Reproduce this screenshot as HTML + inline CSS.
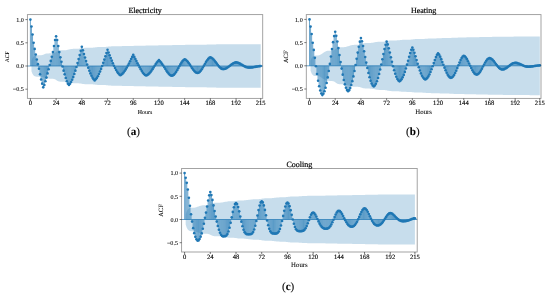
<!DOCTYPE html>
<html><head><meta charset="utf-8"><title>ACF</title>
<style>
html,body{margin:0;padding:0;background:#fff}
svg{display:block}
text{font-family:"Liberation Serif",serif;fill:#000;text-rendering:geometricPrecision}
.tk{font-size:6.6px;stroke:#000;stroke-width:0.12px}
.ty{font-size:6.1px;stroke-width:0.08px}
.lb{stroke:#000;stroke-width:0.06px}
.tt{font-size:8px;stroke:#000;stroke-width:0.18px}
.cap{font-size:11.1px;fill:#000;stroke:#000;stroke-width:0.08px}
</style></head><body>
<svg width="550" height="296" viewBox="0 0 550 296">
<rect width="550" height="296" fill="#fff"/>
<polygon points="31.47,60.84 32.54,57.94 33.61,56.53 34.68,55.86 35.76,55.51 36.83,55.35 37.90,55.30 38.97,55.30 40.04,55.29 41.11,55.21 42.18,55.01 43.25,54.66 44.33,54.18 45.40,53.80 46.47,53.57 47.54,53.44 48.61,53.38 49.68,53.37 50.75,53.37 51.82,53.34 52.90,53.26 53.97,53.07 55.04,52.70 56.11,52.09 57.18,51.33 58.25,50.77 59.32,50.45 60.39,50.29 61.46,50.23 62.54,50.22 63.61,50.22 64.68,50.20 65.75,50.15 66.82,50.04 67.89,49.86 68.96,49.62 70.03,49.35 71.11,49.12 72.18,48.93 73.25,48.79 74.32,48.71 75.39,48.66 76.46,48.64 77.53,48.64 78.60,48.64 79.68,48.60 80.75,48.52 81.82,48.35 82.89,48.10 83.96,47.93 85.03,47.83 86.10,47.78 87.17,47.76 88.24,47.76 89.32,47.76 90.39,47.75 91.46,47.71 92.53,47.64 93.60,47.55 94.67,47.43 95.74,47.30 96.81,47.18 97.89,47.09 98.96,47.02 100.03,46.98 101.10,46.96 102.17,46.95 103.24,46.95 104.31,46.94 105.38,46.92 106.46,46.86 107.53,46.75 108.60,46.58 109.67,46.46 110.74,46.39 111.81,46.35 112.88,46.33 113.95,46.33 115.02,46.33 116.10,46.32 117.17,46.31 118.24,46.29 119.31,46.26 120.38,46.22 121.45,46.16 122.52,46.12 123.59,46.08 124.67,46.05 125.74,46.04 126.81,46.03 127.88,46.03 128.95,46.03 130.02,46.03 131.09,46.01 132.16,45.98 133.24,45.93 134.31,45.86 135.38,45.80 136.45,45.77 137.52,45.76 138.59,45.75 139.66,45.75 140.73,45.75 141.80,45.75 142.88,45.73 143.95,45.70 145.02,45.66 146.09,45.62 147.16,45.56 148.23,45.51 149.30,45.47 150.37,45.44 151.45,45.41 152.52,45.40 153.59,45.39 154.66,45.39 155.73,45.39 156.80,45.39 157.87,45.38 158.94,45.37 160.02,45.35 161.09,45.33 162.16,45.33 163.23,45.32 164.30,45.32 165.37,45.32 166.44,45.32 167.51,45.31 168.58,45.28 169.66,45.25 170.73,45.20 171.80,45.15 172.87,45.09 173.94,45.04 175.01,45.00 176.08,44.96 177.15,44.94 178.23,44.93 179.30,44.93 180.37,44.93 181.44,44.93 182.51,44.92 183.58,44.91 184.65,44.89 185.72,44.86 186.80,44.84 187.87,44.82 188.94,44.81 190.01,44.81 191.08,44.81 192.15,44.81 193.22,44.80 194.29,44.79 195.36,44.78 196.44,44.76 197.51,44.73 198.58,44.70 199.65,44.68 200.72,44.66 201.79,44.64 202.86,44.64 203.93,44.63 205.01,44.63 206.08,44.63 207.15,44.62 208.22,44.60 209.29,44.57 210.36,44.54 211.43,44.49 212.50,44.45 213.58,44.42 214.65,44.40 215.72,44.38 216.79,44.37 217.86,44.37 218.93,44.37 220.00,44.37 221.07,44.37 222.14,44.36 223.22,44.36 224.29,44.35 225.36,44.35 226.43,44.34 227.50,44.34 228.57,44.34 229.64,44.34 230.71,44.34 231.79,44.34 232.86,44.34 233.93,44.34 235.00,44.33 236.07,44.32 237.14,44.32 238.21,44.31 239.28,44.30 240.36,44.30 241.43,44.30 242.50,44.30 243.57,44.30 244.64,44.30 245.71,44.30 246.78,44.29 247.85,44.29 248.92,44.29 250.00,44.29 251.07,44.29 252.14,44.29 253.21,44.29 254.28,44.29 255.35,44.29 256.42,44.29 257.49,44.28 258.57,44.28 259.64,44.28 260.71,44.28 260.71,87.72 259.64,87.72 258.57,87.72 257.49,87.72 256.42,87.71 255.35,87.71 254.28,87.71 253.21,87.71 252.14,87.71 251.07,87.71 250.00,87.71 248.92,87.71 247.85,87.71 246.78,87.71 245.71,87.70 244.64,87.70 243.57,87.70 242.50,87.70 241.43,87.70 240.36,87.70 239.28,87.70 238.21,87.69 237.14,87.68 236.07,87.68 235.00,87.67 233.93,87.66 232.86,87.66 231.79,87.66 230.71,87.66 229.64,87.66 228.57,87.66 227.50,87.66 226.43,87.66 225.36,87.65 224.29,87.65 223.22,87.64 222.14,87.64 221.07,87.63 220.00,87.63 218.93,87.63 217.86,87.63 216.79,87.63 215.72,87.62 214.65,87.60 213.58,87.58 212.50,87.55 211.43,87.51 210.36,87.46 209.29,87.43 208.22,87.40 207.15,87.38 206.08,87.37 205.01,87.37 203.93,87.37 202.86,87.36 201.79,87.36 200.72,87.34 199.65,87.32 198.58,87.30 197.51,87.27 196.44,87.24 195.36,87.22 194.29,87.21 193.22,87.20 192.15,87.19 191.08,87.19 190.01,87.19 188.94,87.19 187.87,87.18 186.80,87.16 185.72,87.14 184.65,87.11 183.58,87.09 182.51,87.08 181.44,87.07 180.37,87.07 179.30,87.07 178.23,87.07 177.15,87.06 176.08,87.04 175.01,87.00 173.94,86.96 172.87,86.91 171.80,86.85 170.73,86.80 169.66,86.75 168.58,86.72 167.51,86.69 166.44,86.68 165.37,86.68 164.30,86.68 163.23,86.68 162.16,86.67 161.09,86.67 160.02,86.65 158.94,86.63 157.87,86.62 156.80,86.61 155.73,86.61 154.66,86.61 153.59,86.61 152.52,86.60 151.45,86.59 150.37,86.56 149.30,86.53 148.23,86.49 147.16,86.44 146.09,86.38 145.02,86.34 143.95,86.30 142.88,86.27 141.80,86.25 140.73,86.25 139.66,86.25 138.59,86.25 137.52,86.24 136.45,86.23 135.38,86.20 134.31,86.14 133.24,86.07 132.16,86.02 131.09,85.99 130.02,85.97 128.95,85.97 127.88,85.97 126.81,85.97 125.74,85.96 124.67,85.95 123.59,85.92 122.52,85.88 121.45,85.84 120.38,85.78 119.31,85.74 118.24,85.71 117.17,85.69 116.10,85.68 115.02,85.67 113.95,85.67 112.88,85.67 111.81,85.65 110.74,85.61 109.67,85.54 108.60,85.42 107.53,85.25 106.46,85.14 105.38,85.08 104.31,85.06 103.24,85.05 102.17,85.05 101.10,85.04 100.03,85.02 98.96,84.98 97.89,84.91 96.81,84.82 95.74,84.70 94.67,84.57 93.60,84.45 92.53,84.36 91.46,84.29 90.39,84.25 89.32,84.24 88.24,84.24 87.17,84.24 86.10,84.22 85.03,84.17 83.96,84.07 82.89,83.90 81.82,83.65 80.75,83.48 79.68,83.40 78.60,83.36 77.53,83.36 76.46,83.36 75.39,83.34 74.32,83.29 73.25,83.21 72.18,83.07 71.11,82.88 70.03,82.65 68.96,82.38 67.89,82.14 66.82,81.96 65.75,81.85 64.68,81.80 63.61,81.78 62.54,81.78 61.46,81.77 60.39,81.71 59.32,81.55 58.25,81.23 57.18,80.67 56.11,79.91 55.04,79.30 53.97,78.93 52.90,78.74 51.82,78.66 50.75,78.63 49.68,78.63 48.61,78.62 47.54,78.56 46.47,78.43 45.40,78.20 44.33,77.82 43.25,77.34 42.18,76.99 41.11,76.79 40.04,76.71 38.97,76.70 37.90,76.70 36.83,76.65 35.76,76.49 34.68,76.14 33.61,75.47 32.54,74.06 31.47,71.16" fill="#1f77b4" fill-opacity="0.25"/>
<path d="M30.40 66.00V19.60M31.47 66.00V26.56M32.54 66.00V34.45M33.61 66.00V42.80M34.68 66.00V48.92M35.76 66.00V54.49M36.83 66.00V59.50M37.90 66.00V64.14M38.97 66.00V68.78M40.04 66.00V74.35M41.11 66.00V79.46M42.18 66.00V83.63M43.25 66.00V87.34M44.33 66.00V85.02M45.40 66.00V81.31M46.47 66.00V77.60M47.54 66.00V73.42M48.61 66.00V69.25M49.68 66.00V65.07M50.75 66.00V60.90M51.82 66.00V56.72M52.90 66.00V52.08M53.97 66.00V46.05M55.04 66.00V40.02M56.11 66.00V36.30M57.18 66.00V40.02M58.25 66.00V46.05M59.32 66.00V52.08M60.39 66.00V57.18M61.46 66.00V61.82M62.54 66.00V66.46M63.61 66.00V70.64M64.68 66.00V74.35M65.75 66.00V78.06M66.82 66.00V81.31M67.89 66.00V83.63M68.96 66.00V85.02M70.03 66.00V83.75M71.11 66.00V81.99M72.18 66.00V79.76M73.25 66.00V77.10M74.32 66.00V74.04M75.39 66.00V70.64M76.46 66.00V66.96M77.53 66.00V63.08M78.60 66.00V59.04M79.68 66.00V54.94M80.75 66.00V50.81M81.82 66.00V46.74M82.89 66.00V50.32M83.96 66.00V53.94M85.03 66.00V57.55M86.10 66.00V61.10M87.17 66.00V64.51M88.24 66.00V67.74M89.32 66.00V70.73M90.39 66.00V73.42M91.46 66.00V75.76M92.53 66.00V77.72M93.60 66.00V79.27M94.67 66.00V80.38M95.74 66.00V79.37M96.81 66.00V77.96M97.89 66.00V76.18M98.96 66.00V74.04M100.03 66.00V71.60M101.10 66.00V68.88M102.17 66.00V65.94M103.24 66.00V62.83M104.31 66.00V59.60M105.38 66.00V56.31M106.46 66.00V53.02M107.53 66.00V49.76M108.60 66.00V52.47M109.67 66.00V55.22M110.74 66.00V57.96M111.81 66.00V60.65M112.88 66.00V63.24M113.95 66.00V65.69M115.02 66.00V67.96M116.10 66.00V70.00M117.17 66.00V71.77M118.24 66.00V73.26M119.31 66.00V74.43M120.38 66.00V75.28M121.45 66.00V74.60M122.52 66.00V73.66M123.59 66.00V72.48M124.67 66.00V71.05M125.74 66.00V69.42M126.81 66.00V67.61M127.88 66.00V65.61M128.95 66.00V63.48M130.02 66.00V61.28M131.09 66.00V59.07M132.16 66.00V56.91M133.24 66.00V54.86M134.31 66.00V56.89M135.38 66.00V58.96M136.45 66.00V61.07M137.52 66.00V63.19M138.59 66.00V65.31M139.66 66.00V67.37M140.73 66.00V69.32M141.80 66.00V71.11M142.88 66.00V72.68M143.95 66.00V73.97M145.02 66.00V74.93M146.09 66.00V75.51M147.16 66.00V75.09M148.23 66.00V74.38M149.30 66.00V73.40M150.37 66.00V72.18M151.45 66.00V70.74M152.52 66.00V69.15M153.59 66.00V67.46M154.66 66.00V65.75M155.73 66.00V64.09M156.80 66.00V62.55M157.87 66.00V61.21M158.94 66.00V60.11M160.02 66.00V61.19M161.09 66.00V62.47M162.16 66.00V63.93M163.23 66.00V65.55M164.30 66.00V67.26M165.37 66.00V68.99M166.44 66.00V70.69M167.51 66.00V72.25M168.58 66.00V73.61M169.66 66.00V74.68M170.73 66.00V75.41M171.80 66.00V75.74M172.87 66.00V75.40M173.94 66.00V74.65M175.01 66.00V73.50M176.08 66.00V72.01M177.15 66.00V70.26M178.23 66.00V68.33M179.30 66.00V66.33M180.37 66.00V64.39M181.44 66.00V62.61M182.51 66.00V61.11M183.58 66.00V59.97M184.65 66.00V59.27M185.72 66.00V59.82M186.80 66.00V60.69M187.87 66.00V61.86M188.94 66.00V63.27M190.01 66.00V64.86M191.08 66.00V66.54M192.15 66.00V68.22M193.22 66.00V69.78M194.29 66.00V71.10M195.36 66.00V72.11M196.44 66.00V72.74M197.51 66.00V72.96M198.58 66.00V72.71M199.65 66.00V71.99M200.72 66.00V70.84M201.79 66.00V69.33M202.86 66.00V67.57M203.93 66.00V65.65M205.01 66.00V63.70M206.08 66.00V61.85M207.15 66.00V60.21M208.22 66.00V58.86M209.29 66.00V57.90M210.36 66.00V57.37M211.43 66.00V57.77M212.50 66.00V58.49M213.58 66.00V59.50M214.65 66.00V60.74M215.72 66.00V62.14M216.79 66.00V63.60M217.86 66.00V65.05M218.93 66.00V66.38M220.00 66.00V67.51M221.07 66.00V68.38M222.14 66.00V68.92M223.22 66.00V69.11M224.29 66.00V69.00M225.36 66.00V68.69M226.43 66.00V68.19M227.50 66.00V67.54M228.57 66.00V66.78M229.64 66.00V65.95M230.71 66.00V65.11M231.79 66.00V64.32M232.86 66.00V63.60M233.93 66.00V63.03M235.00 66.00V62.61M236.07 66.00V62.38M237.14 66.00V62.56M238.21 66.00V62.88M239.28 66.00V63.33M240.36 66.00V63.89M241.43 66.00V64.51M242.50 66.00V65.17M243.57 66.00V65.81M244.64 66.00V66.40M245.71 66.00V66.91M246.78 66.00V67.30M247.85 66.00V67.54M248.92 66.00V67.62M250.00 66.00V67.60M251.07 66.00V67.52M252.14 66.00V67.40M253.21 66.00V67.25M254.28 66.00V67.06M255.35 66.00V66.86M256.42 66.00V66.66M257.49 66.00V66.47M258.57 66.00V66.30M259.64 66.00V66.16M260.71 66.00V66.06" stroke="#1f77b4" stroke-width="0.65" fill="none"/>
<line x1="27.40" x2="262.70" y1="66.00" y2="66.00" stroke="#1f77b4" stroke-width="0.7"/>
<g fill="#1f77b4"><circle cx="30.40" cy="19.60" r="1.3"/><circle cx="31.47" cy="26.56" r="1.3"/><circle cx="32.54" cy="34.45" r="1.3"/><circle cx="33.61" cy="42.80" r="1.3"/><circle cx="34.68" cy="48.92" r="1.3"/><circle cx="35.76" cy="54.49" r="1.3"/><circle cx="36.83" cy="59.50" r="1.3"/><circle cx="37.90" cy="64.14" r="1.3"/><circle cx="38.97" cy="68.78" r="1.3"/><circle cx="40.04" cy="74.35" r="1.3"/><circle cx="41.11" cy="79.46" r="1.3"/><circle cx="42.18" cy="83.63" r="1.3"/><circle cx="43.25" cy="87.34" r="1.3"/><circle cx="44.33" cy="85.02" r="1.3"/><circle cx="45.40" cy="81.31" r="1.3"/><circle cx="46.47" cy="77.60" r="1.3"/><circle cx="47.54" cy="73.42" r="1.3"/><circle cx="48.61" cy="69.25" r="1.3"/><circle cx="49.68" cy="65.07" r="1.3"/><circle cx="50.75" cy="60.90" r="1.3"/><circle cx="51.82" cy="56.72" r="1.3"/><circle cx="52.90" cy="52.08" r="1.3"/><circle cx="53.97" cy="46.05" r="1.3"/><circle cx="55.04" cy="40.02" r="1.3"/><circle cx="56.11" cy="36.30" r="1.3"/><circle cx="57.18" cy="40.02" r="1.3"/><circle cx="58.25" cy="46.05" r="1.3"/><circle cx="59.32" cy="52.08" r="1.3"/><circle cx="60.39" cy="57.18" r="1.3"/><circle cx="61.46" cy="61.82" r="1.3"/><circle cx="62.54" cy="66.46" r="1.3"/><circle cx="63.61" cy="70.64" r="1.3"/><circle cx="64.68" cy="74.35" r="1.3"/><circle cx="65.75" cy="78.06" r="1.3"/><circle cx="66.82" cy="81.31" r="1.3"/><circle cx="67.89" cy="83.63" r="1.3"/><circle cx="68.96" cy="85.02" r="1.3"/><circle cx="70.03" cy="83.75" r="1.3"/><circle cx="71.11" cy="81.99" r="1.3"/><circle cx="72.18" cy="79.76" r="1.3"/><circle cx="73.25" cy="77.10" r="1.3"/><circle cx="74.32" cy="74.04" r="1.3"/><circle cx="75.39" cy="70.64" r="1.3"/><circle cx="76.46" cy="66.96" r="1.3"/><circle cx="77.53" cy="63.08" r="1.3"/><circle cx="78.60" cy="59.04" r="1.3"/><circle cx="79.68" cy="54.94" r="1.3"/><circle cx="80.75" cy="50.81" r="1.3"/><circle cx="81.82" cy="46.74" r="1.3"/><circle cx="82.89" cy="50.32" r="1.3"/><circle cx="83.96" cy="53.94" r="1.3"/><circle cx="85.03" cy="57.55" r="1.3"/><circle cx="86.10" cy="61.10" r="1.3"/><circle cx="87.17" cy="64.51" r="1.3"/><circle cx="88.24" cy="67.74" r="1.3"/><circle cx="89.32" cy="70.73" r="1.3"/><circle cx="90.39" cy="73.42" r="1.3"/><circle cx="91.46" cy="75.76" r="1.3"/><circle cx="92.53" cy="77.72" r="1.3"/><circle cx="93.60" cy="79.27" r="1.3"/><circle cx="94.67" cy="80.38" r="1.3"/><circle cx="95.74" cy="79.37" r="1.3"/><circle cx="96.81" cy="77.96" r="1.3"/><circle cx="97.89" cy="76.18" r="1.3"/><circle cx="98.96" cy="74.04" r="1.3"/><circle cx="100.03" cy="71.60" r="1.3"/><circle cx="101.10" cy="68.88" r="1.3"/><circle cx="102.17" cy="65.94" r="1.3"/><circle cx="103.24" cy="62.83" r="1.3"/><circle cx="104.31" cy="59.60" r="1.3"/><circle cx="105.38" cy="56.31" r="1.3"/><circle cx="106.46" cy="53.02" r="1.3"/><circle cx="107.53" cy="49.76" r="1.3"/><circle cx="108.60" cy="52.47" r="1.3"/><circle cx="109.67" cy="55.22" r="1.3"/><circle cx="110.74" cy="57.96" r="1.3"/><circle cx="111.81" cy="60.65" r="1.3"/><circle cx="112.88" cy="63.24" r="1.3"/><circle cx="113.95" cy="65.69" r="1.3"/><circle cx="115.02" cy="67.96" r="1.3"/><circle cx="116.10" cy="70.00" r="1.3"/><circle cx="117.17" cy="71.77" r="1.3"/><circle cx="118.24" cy="73.26" r="1.3"/><circle cx="119.31" cy="74.43" r="1.3"/><circle cx="120.38" cy="75.28" r="1.3"/><circle cx="121.45" cy="74.60" r="1.3"/><circle cx="122.52" cy="73.66" r="1.3"/><circle cx="123.59" cy="72.48" r="1.3"/><circle cx="124.67" cy="71.05" r="1.3"/><circle cx="125.74" cy="69.42" r="1.3"/><circle cx="126.81" cy="67.61" r="1.3"/><circle cx="127.88" cy="65.61" r="1.3"/><circle cx="128.95" cy="63.48" r="1.3"/><circle cx="130.02" cy="61.28" r="1.3"/><circle cx="131.09" cy="59.07" r="1.3"/><circle cx="132.16" cy="56.91" r="1.3"/><circle cx="133.24" cy="54.86" r="1.3"/><circle cx="134.31" cy="56.89" r="1.3"/><circle cx="135.38" cy="58.96" r="1.3"/><circle cx="136.45" cy="61.07" r="1.3"/><circle cx="137.52" cy="63.19" r="1.3"/><circle cx="138.59" cy="65.31" r="1.3"/><circle cx="139.66" cy="67.37" r="1.3"/><circle cx="140.73" cy="69.32" r="1.3"/><circle cx="141.80" cy="71.11" r="1.3"/><circle cx="142.88" cy="72.68" r="1.3"/><circle cx="143.95" cy="73.97" r="1.3"/><circle cx="145.02" cy="74.93" r="1.3"/><circle cx="146.09" cy="75.51" r="1.3"/><circle cx="147.16" cy="75.09" r="1.3"/><circle cx="148.23" cy="74.38" r="1.3"/><circle cx="149.30" cy="73.40" r="1.3"/><circle cx="150.37" cy="72.18" r="1.3"/><circle cx="151.45" cy="70.74" r="1.3"/><circle cx="152.52" cy="69.15" r="1.3"/><circle cx="153.59" cy="67.46" r="1.3"/><circle cx="154.66" cy="65.75" r="1.3"/><circle cx="155.73" cy="64.09" r="1.3"/><circle cx="156.80" cy="62.55" r="1.3"/><circle cx="157.87" cy="61.21" r="1.3"/><circle cx="158.94" cy="60.11" r="1.3"/><circle cx="160.02" cy="61.19" r="1.3"/><circle cx="161.09" cy="62.47" r="1.3"/><circle cx="162.16" cy="63.93" r="1.3"/><circle cx="163.23" cy="65.55" r="1.3"/><circle cx="164.30" cy="67.26" r="1.3"/><circle cx="165.37" cy="68.99" r="1.3"/><circle cx="166.44" cy="70.69" r="1.3"/><circle cx="167.51" cy="72.25" r="1.3"/><circle cx="168.58" cy="73.61" r="1.3"/><circle cx="169.66" cy="74.68" r="1.3"/><circle cx="170.73" cy="75.41" r="1.3"/><circle cx="171.80" cy="75.74" r="1.3"/><circle cx="172.87" cy="75.40" r="1.3"/><circle cx="173.94" cy="74.65" r="1.3"/><circle cx="175.01" cy="73.50" r="1.3"/><circle cx="176.08" cy="72.01" r="1.3"/><circle cx="177.15" cy="70.26" r="1.3"/><circle cx="178.23" cy="68.33" r="1.3"/><circle cx="179.30" cy="66.33" r="1.3"/><circle cx="180.37" cy="64.39" r="1.3"/><circle cx="181.44" cy="62.61" r="1.3"/><circle cx="182.51" cy="61.11" r="1.3"/><circle cx="183.58" cy="59.97" r="1.3"/><circle cx="184.65" cy="59.27" r="1.3"/><circle cx="185.72" cy="59.82" r="1.3"/><circle cx="186.80" cy="60.69" r="1.3"/><circle cx="187.87" cy="61.86" r="1.3"/><circle cx="188.94" cy="63.27" r="1.3"/><circle cx="190.01" cy="64.86" r="1.3"/><circle cx="191.08" cy="66.54" r="1.3"/><circle cx="192.15" cy="68.22" r="1.3"/><circle cx="193.22" cy="69.78" r="1.3"/><circle cx="194.29" cy="71.10" r="1.3"/><circle cx="195.36" cy="72.11" r="1.3"/><circle cx="196.44" cy="72.74" r="1.3"/><circle cx="197.51" cy="72.96" r="1.3"/><circle cx="198.58" cy="72.71" r="1.3"/><circle cx="199.65" cy="71.99" r="1.3"/><circle cx="200.72" cy="70.84" r="1.3"/><circle cx="201.79" cy="69.33" r="1.3"/><circle cx="202.86" cy="67.57" r="1.3"/><circle cx="203.93" cy="65.65" r="1.3"/><circle cx="205.01" cy="63.70" r="1.3"/><circle cx="206.08" cy="61.85" r="1.3"/><circle cx="207.15" cy="60.21" r="1.3"/><circle cx="208.22" cy="58.86" r="1.3"/><circle cx="209.29" cy="57.90" r="1.3"/><circle cx="210.36" cy="57.37" r="1.3"/><circle cx="211.43" cy="57.77" r="1.3"/><circle cx="212.50" cy="58.49" r="1.3"/><circle cx="213.58" cy="59.50" r="1.3"/><circle cx="214.65" cy="60.74" r="1.3"/><circle cx="215.72" cy="62.14" r="1.3"/><circle cx="216.79" cy="63.60" r="1.3"/><circle cx="217.86" cy="65.05" r="1.3"/><circle cx="218.93" cy="66.38" r="1.3"/><circle cx="220.00" cy="67.51" r="1.3"/><circle cx="221.07" cy="68.38" r="1.3"/><circle cx="222.14" cy="68.92" r="1.3"/><circle cx="223.22" cy="69.11" r="1.3"/><circle cx="224.29" cy="69.00" r="1.3"/><circle cx="225.36" cy="68.69" r="1.3"/><circle cx="226.43" cy="68.19" r="1.3"/><circle cx="227.50" cy="67.54" r="1.3"/><circle cx="228.57" cy="66.78" r="1.3"/><circle cx="229.64" cy="65.95" r="1.3"/><circle cx="230.71" cy="65.11" r="1.3"/><circle cx="231.79" cy="64.32" r="1.3"/><circle cx="232.86" cy="63.60" r="1.3"/><circle cx="233.93" cy="63.03" r="1.3"/><circle cx="235.00" cy="62.61" r="1.3"/><circle cx="236.07" cy="62.38" r="1.3"/><circle cx="237.14" cy="62.56" r="1.3"/><circle cx="238.21" cy="62.88" r="1.3"/><circle cx="239.28" cy="63.33" r="1.3"/><circle cx="240.36" cy="63.89" r="1.3"/><circle cx="241.43" cy="64.51" r="1.3"/><circle cx="242.50" cy="65.17" r="1.3"/><circle cx="243.57" cy="65.81" r="1.3"/><circle cx="244.64" cy="66.40" r="1.3"/><circle cx="245.71" cy="66.91" r="1.3"/><circle cx="246.78" cy="67.30" r="1.3"/><circle cx="247.85" cy="67.54" r="1.3"/><circle cx="248.92" cy="67.62" r="1.3"/><circle cx="250.00" cy="67.60" r="1.3"/><circle cx="251.07" cy="67.52" r="1.3"/><circle cx="252.14" cy="67.40" r="1.3"/><circle cx="253.21" cy="67.25" r="1.3"/><circle cx="254.28" cy="67.06" r="1.3"/><circle cx="255.35" cy="66.86" r="1.3"/><circle cx="256.42" cy="66.66" r="1.3"/><circle cx="257.49" cy="66.47" r="1.3"/><circle cx="258.57" cy="66.30" r="1.3"/><circle cx="259.64" cy="66.16" r="1.3"/><circle cx="260.71" cy="66.06" r="1.3"/></g>
<rect x="27.40" y="14.60" width="235.30" height="83.80" fill="none" stroke="#000" stroke-opacity="0.4" stroke-width="0.9"/>
<text x="23.80" y="21.80" text-anchor="end" class="tk ty">1.0</text>
<text x="23.80" y="45.00" text-anchor="end" class="tk ty">0.5</text>
<text x="23.80" y="68.20" text-anchor="end" class="tk ty">0.0</text>
<text x="23.80" y="91.40" text-anchor="end" class="tk ty">−0.5</text>
<text x="30.40" y="105.40" text-anchor="middle" class="tk">0</text>
<text x="56.11" y="105.40" text-anchor="middle" class="tk">24</text>
<text x="81.82" y="105.40" text-anchor="middle" class="tk">48</text>
<text x="107.53" y="105.40" text-anchor="middle" class="tk">72</text>
<text x="133.24" y="105.40" text-anchor="middle" class="tk">96</text>
<text x="158.94" y="105.40" text-anchor="middle" class="tk">120</text>
<text x="184.65" y="105.40" text-anchor="middle" class="tk">144</text>
<text x="210.36" y="105.40" text-anchor="middle" class="tk">168</text>
<text x="236.07" y="105.40" text-anchor="middle" class="tk">192</text>
<text x="260.71" y="105.40" text-anchor="middle" class="tk">215</text>
<path d="M27.40 19.60h-2M27.40 42.80h-2M27.40 66.00h-2M27.40 89.20h-2M30.40 98.40v2M56.11 98.40v2M81.82 98.40v2M107.53 98.40v2M133.24 98.40v2M158.94 98.40v2M184.65 98.40v2M210.36 98.40v2M236.07 98.40v2M260.71 98.40v2" stroke="#000" stroke-opacity="0.75" stroke-width="0.7" fill="none"/>
<text x="145.05" y="13.10" text-anchor="middle" class="tt">Electricity</text>
<text x="145.05" y="113.80" text-anchor="middle" class="lb" font-size="5.9">Hours</text>
<text transform="translate(8.60 56.80) rotate(-90)" text-anchor="middle" class="lb" font-size="5.61">ACF</text>
<text x="133.60" y="135.20" text-anchor="middle" class="cap">(<tspan font-weight="bold">a</tspan>)</text>
<polygon points="310.57,60.80 311.64,58.00 312.71,56.62 313.78,55.97 314.86,55.68 315.93,55.60 317.00,55.60 318.07,55.53 319.14,55.28 320.21,54.83 321.28,54.20 322.35,53.45 323.43,52.67 324.50,51.99 325.57,51.45 326.64,51.07 327.71,50.84 328.78,50.73 329.85,50.71 330.92,50.71 332.00,50.64 333.07,50.43 334.14,50.01 335.21,49.37 336.28,48.57 337.35,47.97 338.42,47.59 339.49,47.39 340.56,47.32 341.64,47.31 342.71,47.30 343.78,47.25 344.85,47.12 345.92,46.91 346.99,46.62 348.06,46.26 349.13,45.88 350.21,45.53 351.28,45.25 352.35,45.03 353.42,44.90 354.49,44.84 355.56,44.82 356.63,44.82 357.70,44.79 358.78,44.69 359.85,44.49 360.92,44.17 361.99,43.76 363.06,43.44 364.13,43.23 365.20,43.12 366.27,43.08 367.34,43.07 368.42,43.07 369.49,43.04 370.56,42.97 371.63,42.85 372.70,42.69 373.77,42.49 374.84,42.27 375.91,42.08 376.99,41.92 378.06,41.80 379.13,41.72 380.20,41.69 381.27,41.68 382.34,41.68 383.41,41.65 384.48,41.58 385.56,41.44 386.63,41.23 387.70,40.95 388.77,40.73 389.84,40.58 390.91,40.50 391.98,40.46 393.05,40.45 394.12,40.45 395.20,40.44 396.27,40.40 397.34,40.35 398.41,40.26 399.48,40.16 400.55,40.05 401.62,39.94 402.69,39.86 403.77,39.79 404.84,39.75 405.91,39.73 406.98,39.72 408.05,39.72 409.12,39.70 410.19,39.66 411.26,39.59 412.34,39.47 413.41,39.31 414.48,39.19 415.55,39.11 416.62,39.07 417.69,39.05 418.76,39.04 419.83,39.04 420.90,39.02 421.98,39.00 423.05,38.95 424.12,38.88 425.19,38.80 426.26,38.72 427.33,38.64 428.40,38.57 429.47,38.51 430.55,38.48 431.62,38.46 432.69,38.45 433.76,38.44 434.83,38.43 435.90,38.41 436.97,38.37 438.04,38.32 439.12,38.24 440.19,38.18 441.26,38.14 442.33,38.12 443.40,38.11 444.47,38.10 445.54,38.09 446.61,38.08 447.68,38.05 448.76,38.01 449.83,37.96 450.90,37.90 451.97,37.83 453.04,37.77 454.11,37.71 455.18,37.67 456.25,37.64 457.33,37.63 458.40,37.62 459.47,37.61 460.54,37.60 461.61,37.58 462.68,37.55 463.75,37.50 464.82,37.45 465.90,37.41 466.97,37.37 468.04,37.35 469.11,37.33 470.18,37.32 471.25,37.32 472.32,37.31 473.39,37.29 474.46,37.27 475.54,37.24 476.61,37.20 477.68,37.16 478.75,37.13 479.82,37.09 480.89,37.07 481.96,37.05 483.03,37.04 484.11,37.03 485.18,37.03 486.25,37.01 487.32,36.99 488.39,36.97 489.46,36.94 490.53,36.91 491.60,36.88 492.68,36.85 493.75,36.83 494.82,36.81 495.89,36.80 496.96,36.79 498.03,36.78 499.10,36.77 500.17,36.76 501.24,36.75 502.32,36.74 503.39,36.72 504.46,36.71 505.53,36.70 506.60,36.69 507.67,36.68 508.74,36.67 509.81,36.66 510.89,36.65 511.96,36.64 513.03,36.63 514.10,36.62 515.17,36.61 516.24,36.60 517.31,36.58 518.38,36.57 519.46,36.56 520.53,36.55 521.60,36.54 522.67,36.53 523.74,36.52 524.81,36.51 525.88,36.51 526.95,36.50 528.02,36.49 529.10,36.48 530.17,36.47 531.24,36.46 532.31,36.45 533.38,36.44 534.45,36.43 535.52,36.42 536.59,36.41 537.67,36.40 538.74,36.39 539.81,36.38 539.81,95.22 538.74,95.21 537.67,95.20 536.59,95.19 535.52,95.18 534.45,95.17 533.38,95.16 532.31,95.15 531.24,95.14 530.17,95.13 529.10,95.12 528.02,95.11 526.95,95.10 525.88,95.09 524.81,95.09 523.74,95.08 522.67,95.07 521.60,95.06 520.53,95.05 519.46,95.04 518.38,95.03 517.31,95.02 516.24,95.00 515.17,94.99 514.10,94.98 513.03,94.97 511.96,94.96 510.89,94.95 509.81,94.94 508.74,94.93 507.67,94.92 506.60,94.91 505.53,94.90 504.46,94.89 503.39,94.88 502.32,94.86 501.24,94.85 500.17,94.84 499.10,94.83 498.03,94.82 496.96,94.81 495.89,94.80 494.82,94.79 493.75,94.77 492.68,94.75 491.60,94.72 490.53,94.69 489.46,94.66 488.39,94.63 487.32,94.61 486.25,94.59 485.18,94.57 484.11,94.57 483.03,94.56 481.96,94.55 480.89,94.53 479.82,94.51 478.75,94.47 477.68,94.44 476.61,94.40 475.54,94.36 474.46,94.33 473.39,94.31 472.32,94.29 471.25,94.28 470.18,94.28 469.11,94.27 468.04,94.25 466.97,94.23 465.90,94.19 464.82,94.15 463.75,94.10 462.68,94.05 461.61,94.02 460.54,94.00 459.47,93.99 458.40,93.98 457.33,93.97 456.25,93.96 455.18,93.93 454.11,93.89 453.04,93.83 451.97,93.77 450.90,93.70 449.83,93.64 448.76,93.59 447.68,93.55 446.61,93.52 445.54,93.51 444.47,93.50 443.40,93.49 442.33,93.48 441.26,93.46 440.19,93.42 439.12,93.36 438.04,93.28 436.97,93.23 435.90,93.19 434.83,93.17 433.76,93.16 432.69,93.15 431.62,93.14 430.55,93.12 429.47,93.09 428.40,93.03 427.33,92.96 426.26,92.88 425.19,92.80 424.12,92.72 423.05,92.65 421.98,92.60 420.90,92.58 419.83,92.56 418.76,92.56 417.69,92.55 416.62,92.53 415.55,92.49 414.48,92.41 413.41,92.29 412.34,92.13 411.26,92.01 410.19,91.94 409.12,91.90 408.05,91.88 406.98,91.88 405.91,91.87 404.84,91.85 403.77,91.81 402.69,91.74 401.62,91.66 400.55,91.55 399.48,91.44 398.41,91.34 397.34,91.25 396.27,91.20 395.20,91.16 394.12,91.15 393.05,91.15 391.98,91.14 390.91,91.10 389.84,91.02 388.77,90.87 387.70,90.65 386.63,90.37 385.56,90.16 384.48,90.02 383.41,89.95 382.34,89.92 381.27,89.92 380.20,89.91 379.13,89.88 378.06,89.80 376.99,89.68 375.91,89.52 374.84,89.33 373.77,89.11 372.70,88.91 371.63,88.75 370.56,88.63 369.49,88.56 368.42,88.53 367.34,88.53 366.27,88.52 365.20,88.48 364.13,88.37 363.06,88.16 361.99,87.84 360.92,87.43 359.85,87.11 358.78,86.91 357.70,86.81 356.63,86.78 355.56,86.78 354.49,86.76 353.42,86.70 352.35,86.57 351.28,86.35 350.21,86.07 349.13,85.72 348.06,85.34 346.99,84.98 345.92,84.69 344.85,84.48 343.78,84.35 342.71,84.30 341.64,84.29 340.56,84.28 339.49,84.21 338.42,84.01 337.35,83.63 336.28,83.03 335.21,82.23 334.14,81.59 333.07,81.17 332.00,80.96 330.92,80.89 329.85,80.89 328.78,80.87 327.71,80.76 326.64,80.53 325.57,80.15 324.50,79.61 323.43,78.93 322.35,78.15 321.28,77.40 320.21,76.77 319.14,76.32 318.07,76.07 317.00,76.00 315.93,76.00 314.86,75.92 313.78,75.63 312.71,74.98 311.64,73.60 310.57,70.80" fill="#1f77b4" fill-opacity="0.25"/>
<path d="M309.50 65.80V19.40M310.57 65.80V26.59M311.64 65.80V34.02M312.71 65.80V42.79M313.78 65.80V49.88M314.86 65.80V57.83M315.93 65.80V66.26M317.00 65.80V73.96M318.07 65.80V80.68M319.14 65.80V86.24M320.21 65.80V90.53M321.28 65.80V93.49M322.35 65.80V95.12M323.43 65.80V93.76M324.50 65.80V91.28M325.57 65.80V87.69M326.64 65.80V83.03M327.71 65.80V77.41M328.78 65.80V70.97M329.85 65.80V63.91M330.92 65.80V56.52M332.00 65.80V49.12M333.07 65.80V42.14M334.14 65.80V36.12M335.21 65.80V31.74M336.28 65.80V35.85M337.35 65.80V41.52M338.42 65.80V48.08M339.49 65.80V55.03M340.56 65.80V61.98M341.64 65.80V68.61M342.71 65.80V74.67M343.78 65.80V79.95M344.85 65.80V84.33M345.92 65.80V87.70M346.99 65.80V90.03M348.06 65.80V91.32M349.13 65.80V90.17M350.21 65.80V88.08M351.28 65.80V85.06M352.35 65.80V81.14M353.42 65.80V76.41M354.49 65.80V70.98M355.56 65.80V65.04M356.63 65.80V58.82M357.70 65.80V52.59M358.78 65.80V46.72M359.85 65.80V41.64M360.92 65.80V37.96M361.99 65.80V41.31M363.06 65.80V45.93M364.13 65.80V51.28M365.20 65.80V56.95M366.27 65.80V62.62M367.34 65.80V68.02M368.42 65.80V72.96M369.49 65.80V77.27M370.56 65.80V80.84M371.63 65.80V83.59M372.70 65.80V85.49M373.77 65.80V86.54M374.84 65.80V85.57M375.91 65.80V83.82M376.99 65.80V81.28M378.06 65.80V77.98M379.13 65.80V74.00M380.20 65.80V69.44M381.27 65.80V64.44M382.34 65.80V59.21M383.41 65.80V53.97M384.48 65.80V49.04M385.56 65.80V44.77M386.63 65.80V41.67M387.70 65.80V44.41M388.77 65.80V48.18M389.84 65.80V52.55M390.91 65.80V57.18M391.98 65.80V61.81M393.05 65.80V66.22M394.12 65.80V70.26M395.20 65.80V73.78M396.27 65.80V76.69M397.34 65.80V78.94M398.41 65.80V80.49M399.48 65.80V81.34M400.55 65.80V80.61M401.62 65.80V79.29M402.69 65.80V77.37M403.77 65.80V74.88M404.84 65.80V71.88M405.91 65.80V68.43M406.98 65.80V64.66M408.05 65.80V60.71M409.12 65.80V56.76M410.19 65.80V53.03M411.26 65.80V49.81M412.34 65.80V47.47M413.41 65.80V49.68M414.48 65.80V52.73M415.55 65.80V56.25M416.62 65.80V59.99M417.69 65.80V63.72M418.76 65.80V67.28M419.83 65.80V70.54M420.90 65.80V73.38M421.98 65.80V75.73M423.05 65.80V77.54M424.12 65.80V78.80M425.19 65.80V79.49M426.26 65.80V78.92M427.33 65.80V77.90M428.40 65.80V76.40M429.47 65.80V74.44M430.55 65.80V72.04M431.62 65.80V69.27M432.69 65.80V66.24M433.76 65.80V63.08M434.83 65.80V59.96M435.90 65.80V57.10M436.97 65.80V54.76M438.04 65.80V53.27M439.12 65.80V54.61M440.19 65.80V56.66M441.26 65.80V59.16M442.33 65.80V61.93M443.40 65.80V64.81M444.47 65.80V67.65M445.54 65.80V70.34M446.61 65.80V72.74M447.68 65.80V74.76M448.76 65.80V76.33M449.83 65.80V77.38M450.90 65.80V77.86M451.97 65.80V77.43M453.04 65.80V76.48M454.11 65.80V75.01M455.18 65.80V73.07M456.25 65.80V70.73M457.33 65.80V68.10M458.40 65.80V65.33M459.47 65.80V62.59M460.54 65.80V60.06M461.61 65.80V57.94M462.68 65.80V56.43M463.75 65.80V55.73M464.82 65.80V56.30M465.90 65.80V57.49M466.97 65.80V59.17M468.04 65.80V61.20M469.11 65.80V63.45M470.18 65.80V65.79M471.25 65.80V68.09M472.32 65.80V70.20M473.39 65.80V72.01M474.46 65.80V73.40M475.54 65.80V74.29M476.61 65.80V74.62M477.68 65.80V74.34M478.75 65.80V73.55M479.82 65.80V72.29M480.89 65.80V70.62M481.96 65.80V68.67M483.03 65.80V66.56M484.11 65.80V64.43M485.18 65.80V62.43M486.25 65.80V60.69M487.32 65.80V59.33M488.39 65.80V58.45M489.46 65.80V58.14M490.53 65.80V58.36M491.60 65.80V58.96M492.68 65.80V59.90M493.75 65.80V61.10M494.82 65.80V62.48M495.89 65.80V63.95M496.96 65.80V65.41M498.03 65.80V66.75M499.10 65.80V67.90M500.17 65.80V68.78M501.24 65.80V69.33M502.32 65.80V69.51M503.39 65.80V69.40M504.46 65.80V69.08M505.53 65.80V68.57M506.60 65.80V67.89M507.67 65.80V67.10M508.74 65.80V66.24M509.81 65.80V65.38M510.89 65.80V64.57M511.96 65.80V63.86M513.03 65.80V63.31M514.10 65.80V62.96M515.17 65.80V62.83M516.24 65.80V62.90M517.31 65.80V63.11M518.38 65.80V63.43M519.46 65.80V63.84M520.53 65.80V64.32M521.60 65.80V64.82M522.67 65.80V65.32M523.74 65.80V65.78M524.81 65.80V66.18M525.88 65.80V66.48M526.95 65.80V66.66M528.02 65.80V66.73M529.10 65.80V66.71M530.17 65.80V66.64M531.24 65.80V66.53M532.31 65.80V66.39M533.38 65.80V66.23M534.45 65.80V66.05M535.52 65.80V65.87M536.59 65.80V65.70M537.67 65.80V65.55M538.74 65.80V65.44M539.81 65.80V65.36" stroke="#1f77b4" stroke-width="0.65" fill="none"/>
<line x1="306.30" x2="541.00" y1="65.80" y2="65.80" stroke="#1f77b4" stroke-width="0.7"/>
<g fill="#1f77b4"><circle cx="309.50" cy="19.40" r="1.3"/><circle cx="310.57" cy="26.59" r="1.3"/><circle cx="311.64" cy="34.02" r="1.3"/><circle cx="312.71" cy="42.79" r="1.3"/><circle cx="313.78" cy="49.88" r="1.3"/><circle cx="314.86" cy="57.83" r="1.3"/><circle cx="315.93" cy="66.26" r="1.3"/><circle cx="317.00" cy="73.96" r="1.3"/><circle cx="318.07" cy="80.68" r="1.3"/><circle cx="319.14" cy="86.24" r="1.3"/><circle cx="320.21" cy="90.53" r="1.3"/><circle cx="321.28" cy="93.49" r="1.3"/><circle cx="322.35" cy="95.12" r="1.3"/><circle cx="323.43" cy="93.76" r="1.3"/><circle cx="324.50" cy="91.28" r="1.3"/><circle cx="325.57" cy="87.69" r="1.3"/><circle cx="326.64" cy="83.03" r="1.3"/><circle cx="327.71" cy="77.41" r="1.3"/><circle cx="328.78" cy="70.97" r="1.3"/><circle cx="329.85" cy="63.91" r="1.3"/><circle cx="330.92" cy="56.52" r="1.3"/><circle cx="332.00" cy="49.12" r="1.3"/><circle cx="333.07" cy="42.14" r="1.3"/><circle cx="334.14" cy="36.12" r="1.3"/><circle cx="335.21" cy="31.74" r="1.3"/><circle cx="336.28" cy="35.85" r="1.3"/><circle cx="337.35" cy="41.52" r="1.3"/><circle cx="338.42" cy="48.08" r="1.3"/><circle cx="339.49" cy="55.03" r="1.3"/><circle cx="340.56" cy="61.98" r="1.3"/><circle cx="341.64" cy="68.61" r="1.3"/><circle cx="342.71" cy="74.67" r="1.3"/><circle cx="343.78" cy="79.95" r="1.3"/><circle cx="344.85" cy="84.33" r="1.3"/><circle cx="345.92" cy="87.70" r="1.3"/><circle cx="346.99" cy="90.03" r="1.3"/><circle cx="348.06" cy="91.32" r="1.3"/><circle cx="349.13" cy="90.17" r="1.3"/><circle cx="350.21" cy="88.08" r="1.3"/><circle cx="351.28" cy="85.06" r="1.3"/><circle cx="352.35" cy="81.14" r="1.3"/><circle cx="353.42" cy="76.41" r="1.3"/><circle cx="354.49" cy="70.98" r="1.3"/><circle cx="355.56" cy="65.04" r="1.3"/><circle cx="356.63" cy="58.82" r="1.3"/><circle cx="357.70" cy="52.59" r="1.3"/><circle cx="358.78" cy="46.72" r="1.3"/><circle cx="359.85" cy="41.64" r="1.3"/><circle cx="360.92" cy="37.96" r="1.3"/><circle cx="361.99" cy="41.31" r="1.3"/><circle cx="363.06" cy="45.93" r="1.3"/><circle cx="364.13" cy="51.28" r="1.3"/><circle cx="365.20" cy="56.95" r="1.3"/><circle cx="366.27" cy="62.62" r="1.3"/><circle cx="367.34" cy="68.02" r="1.3"/><circle cx="368.42" cy="72.96" r="1.3"/><circle cx="369.49" cy="77.27" r="1.3"/><circle cx="370.56" cy="80.84" r="1.3"/><circle cx="371.63" cy="83.59" r="1.3"/><circle cx="372.70" cy="85.49" r="1.3"/><circle cx="373.77" cy="86.54" r="1.3"/><circle cx="374.84" cy="85.57" r="1.3"/><circle cx="375.91" cy="83.82" r="1.3"/><circle cx="376.99" cy="81.28" r="1.3"/><circle cx="378.06" cy="77.98" r="1.3"/><circle cx="379.13" cy="74.00" r="1.3"/><circle cx="380.20" cy="69.44" r="1.3"/><circle cx="381.27" cy="64.44" r="1.3"/><circle cx="382.34" cy="59.21" r="1.3"/><circle cx="383.41" cy="53.97" r="1.3"/><circle cx="384.48" cy="49.04" r="1.3"/><circle cx="385.56" cy="44.77" r="1.3"/><circle cx="386.63" cy="41.67" r="1.3"/><circle cx="387.70" cy="44.41" r="1.3"/><circle cx="388.77" cy="48.18" r="1.3"/><circle cx="389.84" cy="52.55" r="1.3"/><circle cx="390.91" cy="57.18" r="1.3"/><circle cx="391.98" cy="61.81" r="1.3"/><circle cx="393.05" cy="66.22" r="1.3"/><circle cx="394.12" cy="70.26" r="1.3"/><circle cx="395.20" cy="73.78" r="1.3"/><circle cx="396.27" cy="76.69" r="1.3"/><circle cx="397.34" cy="78.94" r="1.3"/><circle cx="398.41" cy="80.49" r="1.3"/><circle cx="399.48" cy="81.34" r="1.3"/><circle cx="400.55" cy="80.61" r="1.3"/><circle cx="401.62" cy="79.29" r="1.3"/><circle cx="402.69" cy="77.37" r="1.3"/><circle cx="403.77" cy="74.88" r="1.3"/><circle cx="404.84" cy="71.88" r="1.3"/><circle cx="405.91" cy="68.43" r="1.3"/><circle cx="406.98" cy="64.66" r="1.3"/><circle cx="408.05" cy="60.71" r="1.3"/><circle cx="409.12" cy="56.76" r="1.3"/><circle cx="410.19" cy="53.03" r="1.3"/><circle cx="411.26" cy="49.81" r="1.3"/><circle cx="412.34" cy="47.47" r="1.3"/><circle cx="413.41" cy="49.68" r="1.3"/><circle cx="414.48" cy="52.73" r="1.3"/><circle cx="415.55" cy="56.25" r="1.3"/><circle cx="416.62" cy="59.99" r="1.3"/><circle cx="417.69" cy="63.72" r="1.3"/><circle cx="418.76" cy="67.28" r="1.3"/><circle cx="419.83" cy="70.54" r="1.3"/><circle cx="420.90" cy="73.38" r="1.3"/><circle cx="421.98" cy="75.73" r="1.3"/><circle cx="423.05" cy="77.54" r="1.3"/><circle cx="424.12" cy="78.80" r="1.3"/><circle cx="425.19" cy="79.49" r="1.3"/><circle cx="426.26" cy="78.92" r="1.3"/><circle cx="427.33" cy="77.90" r="1.3"/><circle cx="428.40" cy="76.40" r="1.3"/><circle cx="429.47" cy="74.44" r="1.3"/><circle cx="430.55" cy="72.04" r="1.3"/><circle cx="431.62" cy="69.27" r="1.3"/><circle cx="432.69" cy="66.24" r="1.3"/><circle cx="433.76" cy="63.08" r="1.3"/><circle cx="434.83" cy="59.96" r="1.3"/><circle cx="435.90" cy="57.10" r="1.3"/><circle cx="436.97" cy="54.76" r="1.3"/><circle cx="438.04" cy="53.27" r="1.3"/><circle cx="439.12" cy="54.61" r="1.3"/><circle cx="440.19" cy="56.66" r="1.3"/><circle cx="441.26" cy="59.16" r="1.3"/><circle cx="442.33" cy="61.93" r="1.3"/><circle cx="443.40" cy="64.81" r="1.3"/><circle cx="444.47" cy="67.65" r="1.3"/><circle cx="445.54" cy="70.34" r="1.3"/><circle cx="446.61" cy="72.74" r="1.3"/><circle cx="447.68" cy="74.76" r="1.3"/><circle cx="448.76" cy="76.33" r="1.3"/><circle cx="449.83" cy="77.38" r="1.3"/><circle cx="450.90" cy="77.86" r="1.3"/><circle cx="451.97" cy="77.43" r="1.3"/><circle cx="453.04" cy="76.48" r="1.3"/><circle cx="454.11" cy="75.01" r="1.3"/><circle cx="455.18" cy="73.07" r="1.3"/><circle cx="456.25" cy="70.73" r="1.3"/><circle cx="457.33" cy="68.10" r="1.3"/><circle cx="458.40" cy="65.33" r="1.3"/><circle cx="459.47" cy="62.59" r="1.3"/><circle cx="460.54" cy="60.06" r="1.3"/><circle cx="461.61" cy="57.94" r="1.3"/><circle cx="462.68" cy="56.43" r="1.3"/><circle cx="463.75" cy="55.73" r="1.3"/><circle cx="464.82" cy="56.30" r="1.3"/><circle cx="465.90" cy="57.49" r="1.3"/><circle cx="466.97" cy="59.17" r="1.3"/><circle cx="468.04" cy="61.20" r="1.3"/><circle cx="469.11" cy="63.45" r="1.3"/><circle cx="470.18" cy="65.79" r="1.3"/><circle cx="471.25" cy="68.09" r="1.3"/><circle cx="472.32" cy="70.20" r="1.3"/><circle cx="473.39" cy="72.01" r="1.3"/><circle cx="474.46" cy="73.40" r="1.3"/><circle cx="475.54" cy="74.29" r="1.3"/><circle cx="476.61" cy="74.62" r="1.3"/><circle cx="477.68" cy="74.34" r="1.3"/><circle cx="478.75" cy="73.55" r="1.3"/><circle cx="479.82" cy="72.29" r="1.3"/><circle cx="480.89" cy="70.62" r="1.3"/><circle cx="481.96" cy="68.67" r="1.3"/><circle cx="483.03" cy="66.56" r="1.3"/><circle cx="484.11" cy="64.43" r="1.3"/><circle cx="485.18" cy="62.43" r="1.3"/><circle cx="486.25" cy="60.69" r="1.3"/><circle cx="487.32" cy="59.33" r="1.3"/><circle cx="488.39" cy="58.45" r="1.3"/><circle cx="489.46" cy="58.14" r="1.3"/><circle cx="490.53" cy="58.36" r="1.3"/><circle cx="491.60" cy="58.96" r="1.3"/><circle cx="492.68" cy="59.90" r="1.3"/><circle cx="493.75" cy="61.10" r="1.3"/><circle cx="494.82" cy="62.48" r="1.3"/><circle cx="495.89" cy="63.95" r="1.3"/><circle cx="496.96" cy="65.41" r="1.3"/><circle cx="498.03" cy="66.75" r="1.3"/><circle cx="499.10" cy="67.90" r="1.3"/><circle cx="500.17" cy="68.78" r="1.3"/><circle cx="501.24" cy="69.33" r="1.3"/><circle cx="502.32" cy="69.51" r="1.3"/><circle cx="503.39" cy="69.40" r="1.3"/><circle cx="504.46" cy="69.08" r="1.3"/><circle cx="505.53" cy="68.57" r="1.3"/><circle cx="506.60" cy="67.89" r="1.3"/><circle cx="507.67" cy="67.10" r="1.3"/><circle cx="508.74" cy="66.24" r="1.3"/><circle cx="509.81" cy="65.38" r="1.3"/><circle cx="510.89" cy="64.57" r="1.3"/><circle cx="511.96" cy="63.86" r="1.3"/><circle cx="513.03" cy="63.31" r="1.3"/><circle cx="514.10" cy="62.96" r="1.3"/><circle cx="515.17" cy="62.83" r="1.3"/><circle cx="516.24" cy="62.90" r="1.3"/><circle cx="517.31" cy="63.11" r="1.3"/><circle cx="518.38" cy="63.43" r="1.3"/><circle cx="519.46" cy="63.84" r="1.3"/><circle cx="520.53" cy="64.32" r="1.3"/><circle cx="521.60" cy="64.82" r="1.3"/><circle cx="522.67" cy="65.32" r="1.3"/><circle cx="523.74" cy="65.78" r="1.3"/><circle cx="524.81" cy="66.18" r="1.3"/><circle cx="525.88" cy="66.48" r="1.3"/><circle cx="526.95" cy="66.66" r="1.3"/><circle cx="528.02" cy="66.73" r="1.3"/><circle cx="529.10" cy="66.71" r="1.3"/><circle cx="530.17" cy="66.64" r="1.3"/><circle cx="531.24" cy="66.53" r="1.3"/><circle cx="532.31" cy="66.39" r="1.3"/><circle cx="533.38" cy="66.23" r="1.3"/><circle cx="534.45" cy="66.05" r="1.3"/><circle cx="535.52" cy="65.87" r="1.3"/><circle cx="536.59" cy="65.70" r="1.3"/><circle cx="537.67" cy="65.55" r="1.3"/><circle cx="538.74" cy="65.44" r="1.3"/><circle cx="539.81" cy="65.36" r="1.3"/></g>
<rect x="306.30" y="14.60" width="234.70" height="83.80" fill="none" stroke="#000" stroke-opacity="0.4" stroke-width="0.9"/>
<text x="302.70" y="21.60" text-anchor="end" class="tk ty">1.0</text>
<text x="302.70" y="44.80" text-anchor="end" class="tk ty">0.5</text>
<text x="302.70" y="68.00" text-anchor="end" class="tk ty">0.0</text>
<text x="302.70" y="91.20" text-anchor="end" class="tk ty">−0.5</text>
<text x="309.50" y="105.40" text-anchor="middle" class="tk">0</text>
<text x="335.21" y="105.40" text-anchor="middle" class="tk">24</text>
<text x="360.92" y="105.40" text-anchor="middle" class="tk">48</text>
<text x="386.63" y="105.40" text-anchor="middle" class="tk">72</text>
<text x="412.34" y="105.40" text-anchor="middle" class="tk">96</text>
<text x="438.04" y="105.40" text-anchor="middle" class="tk">120</text>
<text x="463.75" y="105.40" text-anchor="middle" class="tk">144</text>
<text x="489.46" y="105.40" text-anchor="middle" class="tk">168</text>
<text x="515.17" y="105.40" text-anchor="middle" class="tk">192</text>
<text x="539.81" y="105.40" text-anchor="middle" class="tk">215</text>
<path d="M306.30 19.40h-2M306.30 42.60h-2M306.30 65.80h-2M306.30 89.00h-2M309.50 98.40v2M335.21 98.40v2M360.92 98.40v2M386.63 98.40v2M412.34 98.40v2M438.04 98.40v2M463.75 98.40v2M489.46 98.40v2M515.17 98.40v2M539.81 98.40v2" stroke="#000" stroke-opacity="0.75" stroke-width="0.7" fill="none"/>
<text x="423.65" y="13.10" text-anchor="middle" class="tt">Heating</text>
<text x="423.65" y="113.80" text-anchor="middle" class="lb" font-size="6.8">Hours</text>
<text transform="translate(287.50 56.80) rotate(-90)" text-anchor="middle" class="lb" font-size="6.46">ACF</text>
<text x="412.80" y="135.20" text-anchor="middle" class="cap">(<tspan font-weight="bold">b</tspan>)</text>
<polygon points="185.67,214.44 186.74,211.31 187.81,209.54 188.88,208.52 189.96,208.02 191.03,207.83 192.10,207.80 193.17,207.79 194.24,207.72 195.31,207.53 196.38,207.23 197.45,206.86 198.53,206.45 199.60,206.05 200.67,205.72 201.74,205.47 202.81,205.31 203.88,205.23 204.95,205.22 206.02,205.22 207.10,205.18 208.17,205.04 209.24,204.75 210.31,204.28 211.38,203.71 212.45,203.26 213.52,202.99 214.59,202.84 215.66,202.79 216.74,202.79 217.81,202.78 218.88,202.75 219.95,202.68 221.02,202.55 222.09,202.39 223.16,202.20 224.23,202.00 225.31,201.82 226.38,201.63 227.45,201.46 228.52,201.32 229.59,201.22 230.66,201.18 231.73,201.17 232.80,201.17 233.88,201.13 234.95,201.04 236.02,200.88 237.09,200.71 238.16,200.56 239.23,200.46 240.30,200.42 241.37,200.41 242.44,200.41 243.52,200.38 244.59,200.32 245.66,200.22 246.73,200.10 247.80,199.97 248.87,199.83 249.94,199.70 251.01,199.57 252.09,199.44 253.16,199.32 254.23,199.23 255.30,199.17 256.37,199.15 257.44,199.15 258.51,199.14 259.58,199.09 260.66,198.97 261.73,198.81 262.80,198.62 263.87,198.45 264.94,198.34 266.01,198.29 267.08,198.28 268.15,198.28 269.22,198.26 270.30,198.21 271.37,198.13 272.44,198.03 273.51,197.93 274.58,197.82 275.65,197.71 276.72,197.60 277.79,197.49 278.87,197.40 279.94,197.32 281.01,197.27 282.08,197.25 283.15,197.25 284.22,197.25 285.29,197.21 286.36,197.12 287.44,196.98 288.51,196.83 289.58,196.69 290.65,196.60 291.72,196.56 292.79,196.54 293.86,196.54 294.93,196.54 296.00,196.51 297.08,196.46 298.15,196.40 299.22,196.33 300.29,196.26 301.36,196.19 302.43,196.12 303.50,196.05 304.57,195.99 305.65,195.93 306.72,195.90 307.79,195.87 308.86,195.87 309.93,195.87 311.00,195.86 312.07,195.85 313.14,195.83 314.22,195.81 315.29,195.79 316.36,195.77 317.43,195.77 318.50,195.77 319.57,195.77 320.64,195.76 321.71,195.74 322.78,195.71 323.86,195.68 324.93,195.64 326.00,195.60 327.07,195.56 328.14,195.51 329.21,195.48 330.28,195.44 331.35,195.42 332.43,195.41 333.50,195.40 334.57,195.40 335.64,195.40 336.71,195.39 337.78,195.36 338.85,195.33 339.92,195.29 341.00,195.26 342.07,195.23 343.14,195.22 344.21,195.21 345.28,195.21 346.35,195.21 347.42,195.21 348.49,195.20 349.56,195.18 350.64,195.16 351.71,195.13 352.78,195.11 353.85,195.08 354.92,195.06 355.99,195.05 357.06,195.04 358.13,195.04 359.21,195.04 360.28,195.03 361.35,195.02 362.42,194.99 363.49,194.95 364.56,194.89 365.63,194.83 366.70,194.78 367.78,194.74 368.85,194.71 369.92,194.69 370.99,194.69 372.06,194.69 373.13,194.69 374.20,194.68 375.27,194.67 376.34,194.66 377.42,194.64 378.49,194.62 379.56,194.61 380.63,194.59 381.70,194.58 382.77,194.57 383.84,194.57 384.91,194.57 385.99,194.57 387.06,194.57 388.13,194.56 389.20,194.55 390.27,194.53 391.34,194.51 392.41,194.49 393.48,194.48 394.56,194.47 395.63,194.46 396.70,194.46 397.77,194.46 398.84,194.46 399.91,194.46 400.98,194.45 402.05,194.45 403.12,194.45 404.20,194.45 405.27,194.45 406.34,194.45 407.41,194.45 408.48,194.45 409.55,194.45 410.62,194.44 411.69,194.44 412.77,194.44 413.84,194.44 414.91,194.44 414.91,244.56 413.84,244.56 412.77,244.56 411.69,244.56 410.62,244.56 409.55,244.55 408.48,244.55 407.41,244.55 406.34,244.55 405.27,244.55 404.20,244.55 403.12,244.55 402.05,244.55 400.98,244.55 399.91,244.54 398.84,244.54 397.77,244.54 396.70,244.54 395.63,244.54 394.56,244.53 393.48,244.52 392.41,244.51 391.34,244.49 390.27,244.47 389.20,244.45 388.13,244.44 387.06,244.43 385.99,244.43 384.91,244.43 383.84,244.43 382.77,244.43 381.70,244.42 380.63,244.41 379.56,244.39 378.49,244.38 377.42,244.36 376.34,244.34 375.27,244.33 374.20,244.32 373.13,244.31 372.06,244.31 370.99,244.31 369.92,244.31 368.85,244.29 367.78,244.26 366.70,244.22 365.63,244.17 364.56,244.11 363.49,244.05 362.42,244.01 361.35,243.98 360.28,243.97 359.21,243.96 358.13,243.96 357.06,243.96 355.99,243.95 354.92,243.94 353.85,243.92 352.78,243.89 351.71,243.87 350.64,243.84 349.56,243.82 348.49,243.80 347.42,243.79 346.35,243.79 345.28,243.79 344.21,243.79 343.14,243.78 342.07,243.77 341.00,243.74 339.92,243.71 338.85,243.67 337.78,243.64 336.71,243.61 335.64,243.60 334.57,243.60 333.50,243.60 332.43,243.59 331.35,243.58 330.28,243.56 329.21,243.52 328.14,243.49 327.07,243.44 326.00,243.40 324.93,243.36 323.86,243.32 322.78,243.29 321.71,243.26 320.64,243.24 319.57,243.23 318.50,243.23 317.43,243.23 316.36,243.23 315.29,243.21 314.22,243.19 313.14,243.17 312.07,243.15 311.00,243.14 309.93,243.13 308.86,243.13 307.79,243.13 306.72,243.10 305.65,243.07 304.57,243.01 303.50,242.95 302.43,242.88 301.36,242.81 300.29,242.74 299.22,242.67 298.15,242.60 297.08,242.54 296.00,242.49 294.93,242.46 293.86,242.46 292.79,242.46 291.72,242.44 290.65,242.40 289.58,242.31 288.51,242.17 287.44,242.02 286.36,241.88 285.29,241.79 284.22,241.75 283.15,241.75 282.08,241.75 281.01,241.73 279.94,241.68 278.87,241.60 277.79,241.51 276.72,241.40 275.65,241.29 274.58,241.18 273.51,241.07 272.44,240.97 271.37,240.87 270.30,240.79 269.22,240.74 268.15,240.72 267.08,240.72 266.01,240.71 264.94,240.66 263.87,240.55 262.80,240.38 261.73,240.19 260.66,240.03 259.58,239.91 258.51,239.86 257.44,239.85 256.37,239.85 255.30,239.83 254.23,239.77 253.16,239.68 252.09,239.56 251.01,239.43 249.94,239.30 248.87,239.17 247.80,239.03 246.73,238.90 245.66,238.78 244.59,238.68 243.52,238.62 242.44,238.59 241.37,238.59 240.30,238.58 239.23,238.54 238.16,238.44 237.09,238.29 236.02,238.12 234.95,237.96 233.88,237.87 232.80,237.83 231.73,237.83 230.66,237.82 229.59,237.78 228.52,237.68 227.45,237.54 226.38,237.37 225.31,237.18 224.23,237.00 223.16,236.80 222.09,236.61 221.02,236.45 219.95,236.32 218.88,236.25 217.81,236.22 216.74,236.21 215.66,236.21 214.59,236.16 213.52,236.01 212.45,235.74 211.38,235.29 210.31,234.72 209.24,234.25 208.17,233.96 207.10,233.82 206.02,233.78 204.95,233.78 203.88,233.77 202.81,233.69 201.74,233.53 200.67,233.28 199.60,232.95 198.53,232.55 197.45,232.14 196.38,231.77 195.31,231.47 194.24,231.28 193.17,231.21 192.10,231.20 191.03,231.17 189.96,230.98 188.88,230.48 187.81,229.46 186.74,227.69 185.67,224.56" fill="#1f77b4" fill-opacity="0.25"/>
<path d="M184.60 219.50V173.10M185.67 219.50V177.74M186.74 219.50V182.84M187.81 219.50V189.48M188.88 219.50V197.78M189.96 219.50V205.81M191.03 219.50V214.21M192.10 219.50V221.59M193.17 219.50V228.13M194.24 219.50V233.14M195.31 219.50V236.85M196.38 219.50V239.31M197.45 219.50V240.61M198.53 219.50V240.38M199.60 219.50V238.99M200.67 219.50V236.67M201.74 219.50V233.42M202.81 219.50V228.78M203.88 219.50V223.68M204.95 219.50V217.78M206.02 219.50V212.61M207.10 219.50V206.49M208.17 219.50V200.55M209.24 219.50V195.35M210.31 219.50V192.12M211.38 219.50V195.11M212.45 219.50V199.90M213.52 219.50V205.39M214.59 219.50V211.05M215.66 219.50V216.53M216.74 219.50V221.59M217.81 219.50V226.06M218.88 219.50V229.79M219.95 219.50V232.72M221.02 219.50V234.80M222.09 219.50V236.03M223.16 219.50V236.44M224.23 219.50V236.13M225.31 219.50V236.20M226.38 219.50V235.55M227.45 219.50V234.09M228.52 219.50V231.53M229.59 219.50V227.74M230.66 219.50V222.87M231.73 219.50V217.37M232.80 219.50V211.90M233.88 219.50V207.23M234.95 219.50V204.09M236.02 219.50V202.98M237.09 219.50V204.02M238.16 219.50V206.96M239.23 219.50V211.34M240.30 219.50V216.47M241.37 219.50V221.63M242.44 219.50V226.19M243.52 219.50V229.75M244.59 219.50V232.15M245.66 219.50V233.52M246.73 219.50V234.13M247.80 219.50V234.32M248.87 219.50V234.35M249.94 219.50V234.32M251.01 219.50V234.12M252.09 219.50V233.47M253.16 219.50V232.04M254.23 219.50V229.50M255.30 219.50V225.76M256.37 219.50V220.95M257.44 219.50V215.52M258.51 219.50V210.11M259.58 219.50V205.51M260.66 219.50V202.41M261.73 219.50V201.31M262.80 219.50V202.38M263.87 219.50V205.41M264.94 219.50V209.92M266.01 219.50V215.20M267.08 219.50V220.51M268.15 219.50V225.21M269.22 219.50V228.87M270.30 219.50V231.34M271.37 219.50V232.75M272.44 219.50V233.38M273.51 219.50V233.57M274.58 219.50V233.61M275.65 219.50V233.58M276.72 219.50V233.39M277.79 219.50V232.78M278.87 219.50V231.43M279.94 219.50V229.05M281.01 219.50V225.52M282.08 219.50V221.00M283.15 219.50V215.89M284.22 219.50V210.80M285.29 219.50V206.47M286.36 219.50V203.55M287.44 219.50V202.52M288.51 219.50V203.47M289.58 219.50V206.16M290.65 219.50V210.16M291.72 219.50V214.85M292.79 219.50V219.57M293.86 219.50V223.74M294.93 219.50V226.99M296.00 219.50V229.19M297.08 219.50V230.43M298.15 219.50V230.99M299.22 219.50V231.17M300.29 219.50V231.19M301.36 219.50V231.17M302.43 219.50V231.06M303.50 219.50V230.67M304.57 219.50V229.79M305.65 219.50V228.28M306.72 219.50V226.09M307.79 219.50V223.34M308.86 219.50V220.29M309.93 219.50V217.32M311.00 219.50V214.82M312.07 219.50V213.16M313.14 219.50V212.59M314.22 219.50V213.08M315.29 219.50V214.47M316.36 219.50V216.53M317.43 219.50V218.95M318.50 219.50V221.42M319.57 219.50V223.66M320.64 219.50V225.51M321.71 219.50V226.88M322.78 219.50V227.81M323.86 219.50V228.38M324.93 219.50V228.68M326.00 219.50V228.78M327.07 219.50V228.67M328.14 219.50V228.27M329.21 219.50V227.51M330.28 219.50V226.28M331.35 219.50V224.53M332.43 219.50V222.30M333.50 219.50V219.73M334.57 219.50V217.04M335.64 219.50V214.52M336.71 219.50V212.48M337.78 219.50V211.14M338.85 219.50V210.68M339.92 219.50V211.09M341.00 219.50V212.22M342.07 219.50V213.93M343.14 219.50V216.00M344.21 219.50V218.21M345.28 219.50V220.34M346.35 219.50V222.32M347.42 219.50V223.97M348.49 219.50V225.23M349.56 219.50V226.11M350.64 219.50V226.62M351.71 219.50V226.78M352.78 219.50V226.59M353.85 219.50V226.01M354.92 219.50V225.01M355.99 219.50V223.56M357.06 219.50V221.68M358.13 219.50V219.42M359.21 219.50V216.91M360.28 219.50V214.35M361.35 219.50V211.98M362.42 219.50V210.06M363.49 219.50V208.80M364.56 219.50V208.36M365.63 219.50V208.77M366.70 219.50V209.94M367.78 219.50V211.74M368.85 219.50V213.94M369.92 219.50V216.33M370.99 219.50V218.66M372.06 219.50V220.77M373.13 219.50V222.53M374.20 219.50V223.88M375.27 219.50V224.81M376.34 219.50V225.35M377.42 219.50V225.53M378.49 219.50V225.40M379.56 219.50V225.01M380.63 219.50V224.33M381.70 219.50V223.36M382.77 219.50V222.08M383.84 219.50V220.56M384.91 219.50V218.87M385.99 219.50V217.14M387.06 219.50V215.54M388.13 219.50V214.24M389.20 219.50V213.39M390.27 219.50V213.10M391.34 219.50V213.29M392.41 219.50V213.86M393.48 219.50V214.72M394.56 219.50V215.78M395.63 219.50V216.93M396.70 219.50V218.05M397.77 219.50V219.07M398.84 219.50V219.91M399.91 219.50V220.56M400.98 219.50V221.01M402.05 219.50V221.27M403.12 219.50V221.36M404.20 219.50V221.32M405.27 219.50V221.22M406.34 219.50V221.04M407.41 219.50V220.79M408.48 219.50V220.46M409.55 219.50V220.06M410.62 219.50V219.61M411.69 219.50V219.16M412.77 219.50V218.75M413.84 219.50V218.41M414.91 219.50V218.19" stroke="#1f77b4" stroke-width="0.65" fill="none"/>
<line x1="181.60" x2="417.20" y1="219.50" y2="219.50" stroke="#1f77b4" stroke-width="0.7"/>
<g fill="#1f77b4"><circle cx="184.60" cy="173.10" r="1.3"/><circle cx="185.67" cy="177.74" r="1.3"/><circle cx="186.74" cy="182.84" r="1.3"/><circle cx="187.81" cy="189.48" r="1.3"/><circle cx="188.88" cy="197.78" r="1.3"/><circle cx="189.96" cy="205.81" r="1.3"/><circle cx="191.03" cy="214.21" r="1.3"/><circle cx="192.10" cy="221.59" r="1.3"/><circle cx="193.17" cy="228.13" r="1.3"/><circle cx="194.24" cy="233.14" r="1.3"/><circle cx="195.31" cy="236.85" r="1.3"/><circle cx="196.38" cy="239.31" r="1.3"/><circle cx="197.45" cy="240.61" r="1.3"/><circle cx="198.53" cy="240.38" r="1.3"/><circle cx="199.60" cy="238.99" r="1.3"/><circle cx="200.67" cy="236.67" r="1.3"/><circle cx="201.74" cy="233.42" r="1.3"/><circle cx="202.81" cy="228.78" r="1.3"/><circle cx="203.88" cy="223.68" r="1.3"/><circle cx="204.95" cy="217.78" r="1.3"/><circle cx="206.02" cy="212.61" r="1.3"/><circle cx="207.10" cy="206.49" r="1.3"/><circle cx="208.17" cy="200.55" r="1.3"/><circle cx="209.24" cy="195.35" r="1.3"/><circle cx="210.31" cy="192.12" r="1.3"/><circle cx="211.38" cy="195.11" r="1.3"/><circle cx="212.45" cy="199.90" r="1.3"/><circle cx="213.52" cy="205.39" r="1.3"/><circle cx="214.59" cy="211.05" r="1.3"/><circle cx="215.66" cy="216.53" r="1.3"/><circle cx="216.74" cy="221.59" r="1.3"/><circle cx="217.81" cy="226.06" r="1.3"/><circle cx="218.88" cy="229.79" r="1.3"/><circle cx="219.95" cy="232.72" r="1.3"/><circle cx="221.02" cy="234.80" r="1.3"/><circle cx="222.09" cy="236.03" r="1.3"/><circle cx="223.16" cy="236.44" r="1.3"/><circle cx="224.23" cy="236.13" r="1.3"/><circle cx="225.31" cy="236.20" r="1.3"/><circle cx="226.38" cy="235.55" r="1.3"/><circle cx="227.45" cy="234.09" r="1.3"/><circle cx="228.52" cy="231.53" r="1.3"/><circle cx="229.59" cy="227.74" r="1.3"/><circle cx="230.66" cy="222.87" r="1.3"/><circle cx="231.73" cy="217.37" r="1.3"/><circle cx="232.80" cy="211.90" r="1.3"/><circle cx="233.88" cy="207.23" r="1.3"/><circle cx="234.95" cy="204.09" r="1.3"/><circle cx="236.02" cy="202.98" r="1.3"/><circle cx="237.09" cy="204.02" r="1.3"/><circle cx="238.16" cy="206.96" r="1.3"/><circle cx="239.23" cy="211.34" r="1.3"/><circle cx="240.30" cy="216.47" r="1.3"/><circle cx="241.37" cy="221.63" r="1.3"/><circle cx="242.44" cy="226.19" r="1.3"/><circle cx="243.52" cy="229.75" r="1.3"/><circle cx="244.59" cy="232.15" r="1.3"/><circle cx="245.66" cy="233.52" r="1.3"/><circle cx="246.73" cy="234.13" r="1.3"/><circle cx="247.80" cy="234.32" r="1.3"/><circle cx="248.87" cy="234.35" r="1.3"/><circle cx="249.94" cy="234.32" r="1.3"/><circle cx="251.01" cy="234.12" r="1.3"/><circle cx="252.09" cy="233.47" r="1.3"/><circle cx="253.16" cy="232.04" r="1.3"/><circle cx="254.23" cy="229.50" r="1.3"/><circle cx="255.30" cy="225.76" r="1.3"/><circle cx="256.37" cy="220.95" r="1.3"/><circle cx="257.44" cy="215.52" r="1.3"/><circle cx="258.51" cy="210.11" r="1.3"/><circle cx="259.58" cy="205.51" r="1.3"/><circle cx="260.66" cy="202.41" r="1.3"/><circle cx="261.73" cy="201.31" r="1.3"/><circle cx="262.80" cy="202.38" r="1.3"/><circle cx="263.87" cy="205.41" r="1.3"/><circle cx="264.94" cy="209.92" r="1.3"/><circle cx="266.01" cy="215.20" r="1.3"/><circle cx="267.08" cy="220.51" r="1.3"/><circle cx="268.15" cy="225.21" r="1.3"/><circle cx="269.22" cy="228.87" r="1.3"/><circle cx="270.30" cy="231.34" r="1.3"/><circle cx="271.37" cy="232.75" r="1.3"/><circle cx="272.44" cy="233.38" r="1.3"/><circle cx="273.51" cy="233.57" r="1.3"/><circle cx="274.58" cy="233.61" r="1.3"/><circle cx="275.65" cy="233.58" r="1.3"/><circle cx="276.72" cy="233.39" r="1.3"/><circle cx="277.79" cy="232.78" r="1.3"/><circle cx="278.87" cy="231.43" r="1.3"/><circle cx="279.94" cy="229.05" r="1.3"/><circle cx="281.01" cy="225.52" r="1.3"/><circle cx="282.08" cy="221.00" r="1.3"/><circle cx="283.15" cy="215.89" r="1.3"/><circle cx="284.22" cy="210.80" r="1.3"/><circle cx="285.29" cy="206.47" r="1.3"/><circle cx="286.36" cy="203.55" r="1.3"/><circle cx="287.44" cy="202.52" r="1.3"/><circle cx="288.51" cy="203.47" r="1.3"/><circle cx="289.58" cy="206.16" r="1.3"/><circle cx="290.65" cy="210.16" r="1.3"/><circle cx="291.72" cy="214.85" r="1.3"/><circle cx="292.79" cy="219.57" r="1.3"/><circle cx="293.86" cy="223.74" r="1.3"/><circle cx="294.93" cy="226.99" r="1.3"/><circle cx="296.00" cy="229.19" r="1.3"/><circle cx="297.08" cy="230.43" r="1.3"/><circle cx="298.15" cy="230.99" r="1.3"/><circle cx="299.22" cy="231.17" r="1.3"/><circle cx="300.29" cy="231.19" r="1.3"/><circle cx="301.36" cy="231.17" r="1.3"/><circle cx="302.43" cy="231.06" r="1.3"/><circle cx="303.50" cy="230.67" r="1.3"/><circle cx="304.57" cy="229.79" r="1.3"/><circle cx="305.65" cy="228.28" r="1.3"/><circle cx="306.72" cy="226.09" r="1.3"/><circle cx="307.79" cy="223.34" r="1.3"/><circle cx="308.86" cy="220.29" r="1.3"/><circle cx="309.93" cy="217.32" r="1.3"/><circle cx="311.00" cy="214.82" r="1.3"/><circle cx="312.07" cy="213.16" r="1.3"/><circle cx="313.14" cy="212.59" r="1.3"/><circle cx="314.22" cy="213.08" r="1.3"/><circle cx="315.29" cy="214.47" r="1.3"/><circle cx="316.36" cy="216.53" r="1.3"/><circle cx="317.43" cy="218.95" r="1.3"/><circle cx="318.50" cy="221.42" r="1.3"/><circle cx="319.57" cy="223.66" r="1.3"/><circle cx="320.64" cy="225.51" r="1.3"/><circle cx="321.71" cy="226.88" r="1.3"/><circle cx="322.78" cy="227.81" r="1.3"/><circle cx="323.86" cy="228.38" r="1.3"/><circle cx="324.93" cy="228.68" r="1.3"/><circle cx="326.00" cy="228.78" r="1.3"/><circle cx="327.07" cy="228.67" r="1.3"/><circle cx="328.14" cy="228.27" r="1.3"/><circle cx="329.21" cy="227.51" r="1.3"/><circle cx="330.28" cy="226.28" r="1.3"/><circle cx="331.35" cy="224.53" r="1.3"/><circle cx="332.43" cy="222.30" r="1.3"/><circle cx="333.50" cy="219.73" r="1.3"/><circle cx="334.57" cy="217.04" r="1.3"/><circle cx="335.64" cy="214.52" r="1.3"/><circle cx="336.71" cy="212.48" r="1.3"/><circle cx="337.78" cy="211.14" r="1.3"/><circle cx="338.85" cy="210.68" r="1.3"/><circle cx="339.92" cy="211.09" r="1.3"/><circle cx="341.00" cy="212.22" r="1.3"/><circle cx="342.07" cy="213.93" r="1.3"/><circle cx="343.14" cy="216.00" r="1.3"/><circle cx="344.21" cy="218.21" r="1.3"/><circle cx="345.28" cy="220.34" r="1.3"/><circle cx="346.35" cy="222.32" r="1.3"/><circle cx="347.42" cy="223.97" r="1.3"/><circle cx="348.49" cy="225.23" r="1.3"/><circle cx="349.56" cy="226.11" r="1.3"/><circle cx="350.64" cy="226.62" r="1.3"/><circle cx="351.71" cy="226.78" r="1.3"/><circle cx="352.78" cy="226.59" r="1.3"/><circle cx="353.85" cy="226.01" r="1.3"/><circle cx="354.92" cy="225.01" r="1.3"/><circle cx="355.99" cy="223.56" r="1.3"/><circle cx="357.06" cy="221.68" r="1.3"/><circle cx="358.13" cy="219.42" r="1.3"/><circle cx="359.21" cy="216.91" r="1.3"/><circle cx="360.28" cy="214.35" r="1.3"/><circle cx="361.35" cy="211.98" r="1.3"/><circle cx="362.42" cy="210.06" r="1.3"/><circle cx="363.49" cy="208.80" r="1.3"/><circle cx="364.56" cy="208.36" r="1.3"/><circle cx="365.63" cy="208.77" r="1.3"/><circle cx="366.70" cy="209.94" r="1.3"/><circle cx="367.78" cy="211.74" r="1.3"/><circle cx="368.85" cy="213.94" r="1.3"/><circle cx="369.92" cy="216.33" r="1.3"/><circle cx="370.99" cy="218.66" r="1.3"/><circle cx="372.06" cy="220.77" r="1.3"/><circle cx="373.13" cy="222.53" r="1.3"/><circle cx="374.20" cy="223.88" r="1.3"/><circle cx="375.27" cy="224.81" r="1.3"/><circle cx="376.34" cy="225.35" r="1.3"/><circle cx="377.42" cy="225.53" r="1.3"/><circle cx="378.49" cy="225.40" r="1.3"/><circle cx="379.56" cy="225.01" r="1.3"/><circle cx="380.63" cy="224.33" r="1.3"/><circle cx="381.70" cy="223.36" r="1.3"/><circle cx="382.77" cy="222.08" r="1.3"/><circle cx="383.84" cy="220.56" r="1.3"/><circle cx="384.91" cy="218.87" r="1.3"/><circle cx="385.99" cy="217.14" r="1.3"/><circle cx="387.06" cy="215.54" r="1.3"/><circle cx="388.13" cy="214.24" r="1.3"/><circle cx="389.20" cy="213.39" r="1.3"/><circle cx="390.27" cy="213.10" r="1.3"/><circle cx="391.34" cy="213.29" r="1.3"/><circle cx="392.41" cy="213.86" r="1.3"/><circle cx="393.48" cy="214.72" r="1.3"/><circle cx="394.56" cy="215.78" r="1.3"/><circle cx="395.63" cy="216.93" r="1.3"/><circle cx="396.70" cy="218.05" r="1.3"/><circle cx="397.77" cy="219.07" r="1.3"/><circle cx="398.84" cy="219.91" r="1.3"/><circle cx="399.91" cy="220.56" r="1.3"/><circle cx="400.98" cy="221.01" r="1.3"/><circle cx="402.05" cy="221.27" r="1.3"/><circle cx="403.12" cy="221.36" r="1.3"/><circle cx="404.20" cy="221.32" r="1.3"/><circle cx="405.27" cy="221.22" r="1.3"/><circle cx="406.34" cy="221.04" r="1.3"/><circle cx="407.41" cy="220.79" r="1.3"/><circle cx="408.48" cy="220.46" r="1.3"/><circle cx="409.55" cy="220.06" r="1.3"/><circle cx="410.62" cy="219.61" r="1.3"/><circle cx="411.69" cy="219.16" r="1.3"/><circle cx="412.77" cy="218.75" r="1.3"/><circle cx="413.84" cy="218.41" r="1.3"/><circle cx="414.91" cy="218.19" r="1.3"/></g>
<rect x="181.60" y="168.50" width="235.60" height="83.50" fill="none" stroke="#000" stroke-opacity="0.4" stroke-width="0.9"/>
<text x="178.00" y="175.30" text-anchor="end" class="tk ty">1.0</text>
<text x="178.00" y="198.50" text-anchor="end" class="tk ty">0.5</text>
<text x="178.00" y="221.70" text-anchor="end" class="tk ty">0.0</text>
<text x="178.00" y="244.90" text-anchor="end" class="tk ty">−0.5</text>
<text x="184.60" y="259.00" text-anchor="middle" class="tk">0</text>
<text x="210.31" y="259.00" text-anchor="middle" class="tk">24</text>
<text x="236.02" y="259.00" text-anchor="middle" class="tk">48</text>
<text x="261.73" y="259.00" text-anchor="middle" class="tk">72</text>
<text x="287.44" y="259.00" text-anchor="middle" class="tk">96</text>
<text x="313.14" y="259.00" text-anchor="middle" class="tk">120</text>
<text x="338.85" y="259.00" text-anchor="middle" class="tk">144</text>
<text x="364.56" y="259.00" text-anchor="middle" class="tk">168</text>
<text x="390.27" y="259.00" text-anchor="middle" class="tk">192</text>
<text x="414.91" y="259.00" text-anchor="middle" class="tk">215</text>
<path d="M181.60 173.10h-2M181.60 196.30h-2M181.60 219.50h-2M181.60 242.70h-2M184.60 252.00v2M210.31 252.00v2M236.02 252.00v2M261.73 252.00v2M287.44 252.00v2M313.14 252.00v2M338.85 252.00v2M364.56 252.00v2M390.27 252.00v2M414.91 252.00v2" stroke="#000" stroke-opacity="0.75" stroke-width="0.7" fill="none"/>
<text x="299.40" y="167.00" text-anchor="middle" class="tt">Cooling</text>
<text x="299.40" y="267.40" text-anchor="middle" class="lb" font-size="6.8">Hours</text>
<text transform="translate(162.80 210.55) rotate(-90)" text-anchor="middle" class="lb" font-size="6.46">ACF</text>
<text x="288.10" y="289.80" text-anchor="middle" class="cap">(<tspan font-weight="bold">c</tspan>)</text>
</svg>
</body></html>
